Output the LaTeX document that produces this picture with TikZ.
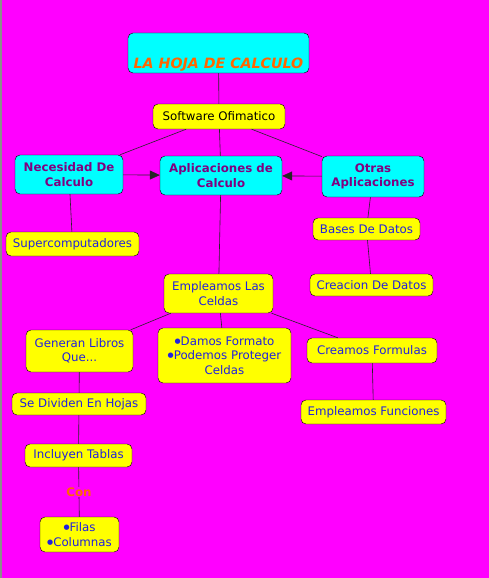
\documentclass[tikz,border=0pt]{standalone}
\usepackage{fontspec}
\setmainfont{DejaVu Sans}
\usepackage{xcolor}
\usetikzlibrary{arrows.meta, positioning}

\definecolor{bgmag}{HTML}{FF00FF}
\definecolor{boxcyan}{HTML}{00FFFF}
\definecolor{boxyel}{HTML}{FFFF00}
\definecolor{txtblue}{HTML}{2222DD}
\definecolor{txtpurp}{HTML}{800080}
\definecolor{txtorng}{HTML}{FF6600}

\newcommand{\blt}{\raisebox{1.8pt}{\fontsize{7}{7}\selectfont ●}}

\begin{document}
\begin{tikzpicture}[
    x=1pt, y=-1pt,
    txtfont/.style={font=\fontsize{11.8}{14.5}\selectfont},
    topicbox/.style={rectangle, rounded corners=5pt, draw=black, fill=boxcyan, align=center, text=txtpurp, font=\fontsize{11.8}{14.5}\bfseries\selectfont, inner xsep=4pt, inner ysep=3pt},
    leafbox/.style={rectangle, rounded corners=5pt, draw=black, fill=boxyel, align=center, text=txtblue, txtfont, inner xsep=4pt, inner ysep=3pt},
    link/.style={draw=black!85, line width=0.6pt},
    arrlink/.style={-{Triangle[length=10pt, width=9pt]}, draw=black!85, line width=0.6pt},
    conlbl/.style={fill=bgmag, text=txtorng, font=\fontsize{11.8}{13}\bfseries\selectfont, inner sep=1pt},
  ]
    % page and border
    \fill[bgmag] (0,0) rectangle (489,578);
    \fill[black!45] (0,0) rectangle (2,578);
    \useasboundingbox (0,0) rectangle (489,578);

    % top
    \node[topicbox, text=txtorng, font=\fontsize{14.2}{16}\bfseries\itshape\selectfont, minimum width=181pt, inner ysep=3pt, text height=32pt, text depth=2pt] (title) at (218.5,53) {LA HOJA DE CALCULO};
    \node[leafbox, text=black, minimum width=132pt, minimum height=25pt] (soft) at (219,116.5) {Software Ofimatico};

    % second level
    \node[topicbox, minimum width=108pt, minimum height=39pt] (neces) at (69,174.5) {Necesidad De\\Calculo};
    \node[topicbox, minimum width=122pt, minimum height=39pt] (aplic) at (221,175.5) {Aplicaciones de\\Calculo};
    \node[topicbox, minimum width=102pt, minimum height=41pt] (otras) at (373,176.5) {Otras\\Aplicaciones};

    \node[leafbox, minimum width=133pt, minimum height=24pt] (super) at (72.5,244) {Supercomputadores};
    \node[leafbox, minimum width=107pt, minimum height=22pt] (bases) at (366.5,229) {Bases De Datos};
    \node[leafbox, minimum width=123pt, minimum height=22pt] (creac) at (371.5,285) {Creacion De Datos};

    % celdas branch
    \node[leafbox, minimum width=109pt, minimum height=39pt] (celdas) at (218.5,293.5) {Empleamos Las\\Celdas};
    \node[leafbox, minimum width=107pt, minimum height=42pt] (libros) at (79.5,351) {Generan Libros\\Que...};
    \node[leafbox, minimum width=133pt, minimum height=55pt] (formato) at (224.5,355.5) {\blt Damos Formato\\\blt Podemos Proteger\\Celdas};
    \node[leafbox, minimum width=130pt, minimum height=25pt] (formulas) at (372,350.5) {Creamos Formulas};
    \node[leafbox, minimum width=145pt, minimum height=24pt] (funciones) at (373.5,412) {Empleamos Funciones};

    \node[leafbox, minimum width=134pt, minimum height=22pt] (hojas) at (79,404) {Se Dividen En Hojas};
    \node[leafbox, minimum width=107pt, minimum height=23pt] (tablas) at (78.5,455.5) {Incluyen Tablas};
    \node[leafbox, minimum width=79pt, minimum height=35pt] (filas) at (79.5,534.5) {\blt Filas\\\blt Columnas};

    % links
    \draw[link] (title) -- (soft);
    \draw[link] (soft) -- (neces);
    \draw[link] (soft) -- (aplic);
    \draw[link] (soft) -- (otras);
    \draw[arrlink] (neces) -- (aplic);
    \draw[arrlink] (otras) -- (aplic);
    \draw[link] (neces) -- (super);
    \draw[link] (otras) -- (bases);
    \draw[link] (bases) -- (creac);
    \draw[link] (aplic) -- (celdas);
    \draw[link] (celdas) -- (libros);
    \draw[link] (celdas) -- (formato);
    \draw[link] (celdas) -- (formulas);
    \draw[link] (formulas) -- (funciones);
    \draw[link] (libros) -- (hojas);
    \draw[link] (hojas) -- (tablas);
    \draw[link] (tablas) -- node[conlbl] {Con} (filas);
\end{tikzpicture}
\end{document}
